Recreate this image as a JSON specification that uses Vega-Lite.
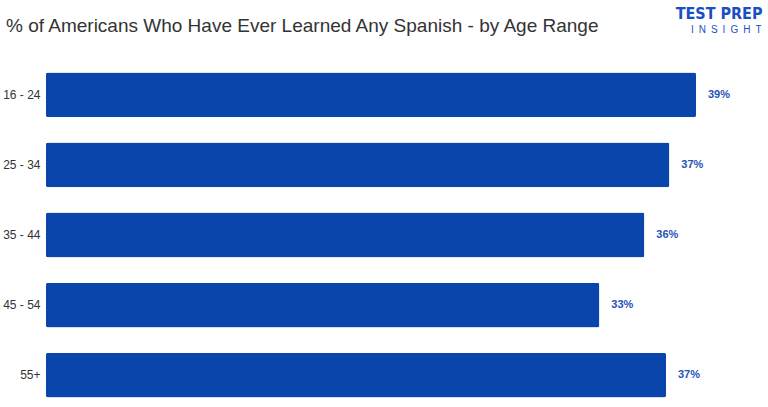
{
  "$schema": "https://vega.github.io/schema/vega-lite/v6.json",
  "width": 700,
  "height": 346,
  "autosize": {"type": "none"},
  "padding": {"left": 46, "top": 62, "right": 22, "bottom": 0},
  "background": "#ffffff",
  "config": {"view": {"stroke": null}, "font": "Liberation Sans"},
  "title": {
    "text": "% of Americans Who Have Ever Learned Any Spanish - by Age Range",
    "anchor": "start",
    "frame": "group",
    "dx": -40,
    "offset": -46,
    "baseline": "alphabetic",
    "font": "Liberation Sans",
    "fontSize": 19,
    "fontWeight": "normal",
    "color": "#333333"
  },
  "data": {
    "values": [
      {"age": "16 - 24", "pct": 39.0, "label": "39%"},
      {"age": "25 - 34", "pct": 37.4, "label": "37%"},
      {"age": "35 - 44", "pct": 35.9, "label": "36%"},
      {"age": "45 - 54", "pct": 33.2, "label": "33%"},
      {"age": "55+", "pct": 37.2, "label": "37%"}
    ]
  },
  "encoding": {
    "y": {
      "field": "age",
      "type": "nominal",
      "sort": null,
      "scale": {"paddingInner": 0.36, "paddingOuter": 0.15}
    },
    "x": {
      "field": "pct",
      "type": "quantitative",
      "scale": {"domain": [0, 42], "nice": false}
    }
  },
  "layer": [
    {
      "mark": {"type": "bar", "color": "#0A45AB", "cornerRadius": 2},
      "encoding": {
        "x": {
          "field": "pct",
          "type": "quantitative",
          "scale": {"domain": [0, 42], "nice": false},
          "axis": {
            "orient": "top",
            "labels": false,
            "ticks": false,
            "domain": false,
            "grid": false,
            "title": "TEST PREP",
            "titleFont": "Liberation Sans Narrow, DejaVu Sans Condensed, Liberation Sans",
            "titleFontSize": 16,
            "titleFontWeight": "bold",
            "titleColor": "#1A4FC4",
            "titleAlign": "right",
            "titleBaseline": "alphabetic",
            "titleAnchor": null,
            "titleX": 716,
            "titleY": -44
          }
        },
        "y": {
          "field": "age",
          "type": "nominal",
          "sort": null,
          "axis": {
            "title": null,
            "ticks": false,
            "domain": false,
            "labelPadding": 6,
            "labelFontSize": 12,
            "labelColor": "#333333",
            "labelFont": "Liberation Sans"
          }
        }
      }
    },
    {
      "mark": {
        "type": "text",
        "align": "left",
        "baseline": "middle",
        "dx": 12,
        "fontSize": 11,
        "fontWeight": "bold",
        "color": "#2452B8",
        "font": "Liberation Sans"
      },
      "encoding": {
        "text": {"field": "label"},
        "y": {
          "field": "age",
          "type": "nominal",
          "sort": null,
          "axis": {
            "orient": "right",
            "labels": false,
            "ticks": false,
            "domain": false,
            "title": "I\u2002N\u2002S\u2002I\u2002G\u2002H\u2002T",
            "titleAngle": 0,
            "titleFont": "Liberation Sans",
            "titleFontSize": 10,
            "titleFontWeight": "normal",
            "titleColor": "#1A4FC4",
            "titleAlign": "right",
            "titleBaseline": "alphabetic",
            "titleAnchor": null,
            "titleX": 15,
            "titleY": -30
          }
        }
      }
    }
  ],
  "resolve": {"axis": {"y": "independent"}}
}
